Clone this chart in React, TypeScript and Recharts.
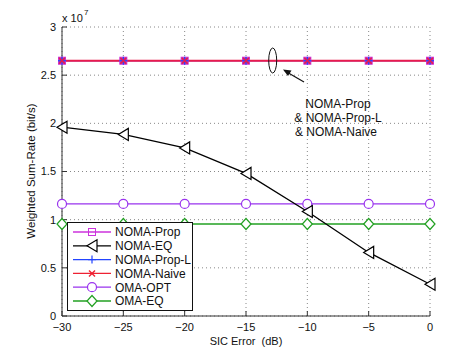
import React from "react";
import {
  LineChart,
  Line,
  XAxis,
  YAxis,
  CartesianGrid,
} from "recharts";

// values in units of 1e7 bit/s
const sicError = [-30, -25, -20, -15, -10, -5, 0];
const nomaProp = [2.65, 2.65, 2.65, 2.65, 2.65, 2.65, 2.65];
const nomaEq = [1.96, 1.885, 1.745, 1.48, 1.085, 0.66, 0.33];
const nomaPropL = [2.65, 2.65, 2.65, 2.65, 2.65, 2.65, 2.65];
const nomaNaive = [2.65, 2.65, 2.65, 2.65, 2.65, 2.65, 2.65];
const omaOpt = [1.163, 1.163, 1.163, 1.163, 1.163, 1.163, 1.163];
const omaEq = [0.955, 0.955, 0.955, 0.955, 0.955, 0.955, 0.955];
const yTicks = [0, 0.5, 1, 1.5, 2, 2.5, 3];

const data = sicError.map((x, i) => ({
  x,
  nomaProp: nomaProp[i],
  nomaEq: nomaEq[i],
  nomaPropL: nomaPropL[i],
  nomaNaive: nomaNaive[i],
  omaOpt: omaOpt[i],
  omaEq: omaEq[i],
}));

const FONT = "'Liberation Sans', Arial, Helvetica, sans-serif";
const C = {
  prop: "#cc33dd",
  eq: "#000000",
  propL: "#2244ff",
  naive: "#ee2233",
  naiveLine: "#e81c4c",
  opt: "#9933ee",
  omaEq: "#22a022",
};

// marker shapes
const Square = ({ cx, cy, color, fill = "none" }: any) => (
  <rect x={cx - 3.5} y={cy - 3.5} width={7} height={7} stroke={color} fill={fill} strokeWidth={1} />
);
const TriLeft = ({ cx, cy, color }: any) => (
  <polygon
    points={`${cx - 5},${cy} ${cx + 5},${cy - 6} ${cx + 5},${cy + 6}`}
    stroke={color}
    fill="#fff"
    strokeWidth={1.2}
  />
);
const Plus = ({ cx, cy, color }: any) => (
  <g stroke={color} strokeWidth={1.2}>
    <line x1={cx - 4} y1={cy} x2={cx + 4} y2={cy} />
    <line x1={cx} y1={cy - 4} x2={cx} y2={cy + 4} />
  </g>
);
const Cross = ({ cx, cy, color }: any) => (
  <g stroke={color} strokeWidth={1.4}>
    <line x1={cx - 3} y1={cy - 3} x2={cx + 3} y2={cy + 3} />
    <line x1={cx - 3} y1={cy + 3} x2={cx + 3} y2={cy - 3} />
  </g>
);
const Circle = ({ cx, cy, color }: any) => (
  <circle cx={cx} cy={cy} r={4.5} stroke={color} fill="#fff" strokeWidth={1.2} />
);
const Diamond = ({ cx, cy, color }: any) => (
  <polygon
    points={`${cx},${cy - 5.5} ${cx + 5},${cy} ${cx},${cy + 5.5} ${cx - 5},${cy}`}
    stroke={color}
    fill="#fff"
    strokeWidth={1.2}
  />
);

const dotOf = (Shape: any, color: string, fill?: string) => (p: any) =>
  p.cx == null ? <g key={p.index} /> : (
    <g key={p.index}>
      <Shape cx={p.cx} cy={p.cy} color={color} fill={fill} />
    </g>
  );

const legendItems = [
  { name: "NOMA-Prop", color: C.prop, Shape: Square },
  { name: "NOMA-EQ", color: C.eq, Shape: TriLeft },
  { name: "NOMA-Prop-L", color: C.propL, Shape: Plus },
  { name: "NOMA-Naive", color: C.naive, Shape: Cross },
  { name: "OMA-OPT", color: C.opt, Shape: Circle },
  { name: "OMA-EQ", color: C.omaEq, Shape: Diamond },
];

const fmt = (v: number) => (v < 0 ? "\u2212" + Math.abs(v) : String(v));
const tickStyle = { fontSize: 11, fill: "#111", fontFamily: FONT };
const noTick = () => <g />;

export default function App() {
  return (
    <div
      style={{
        position: "absolute",
        left: 0,
        top: 0,
        width: 474,
        height: 355,
        background: "#fff",
        fontFamily: FONT,
      }}
    >
      <LineChart
        width={474}
        height={355}
        data={data}
        margin={{ top: 27, right: 44, bottom: 0, left: 0 }}
      >
        <CartesianGrid
          stroke="#888"
          strokeDasharray="1 3"
          horizontalValues={yTicks}
          verticalValues={sicError}
        />
        <XAxis
          dataKey="x"
          type="number"
          domain={[-30, 0]}
          ticks={sicError}
          height={39}
          tickSize={-5}
          tickMargin={12}
          tickFormatter={fmt}
          tick={tickStyle}
          stroke="#333"
        />
        <XAxis
          xAxisId="top"
          orientation="top"
          type="number"
          domain={[-30, 0]}
          ticks={sicError}
          height={0}
          tickSize={-5}
          tick={noTick}
          stroke="#333"
        />
        <YAxis
          type="number"
          domain={[0, 3]}
          ticks={yTicks}
          width={62}
          tickSize={-5}
          tickMargin={11}
          tick={tickStyle}
          stroke="#333"
        />
        <YAxis
          yAxisId="right"
          orientation="right"
          type="number"
          domain={[0, 3]}
          ticks={yTicks}
          width={0}
          tickSize={-5}
          tick={noTick}
          stroke="#333"
        />
        <Line
          dataKey="omaEq"
          stroke={C.omaEq}
          strokeWidth={1.3}
          dot={dotOf(Diamond, C.omaEq)}
          isAnimationActive={false}
        />
        <Line
          dataKey="omaOpt"
          stroke={C.opt}
          strokeWidth={1.3}
          dot={dotOf(Circle, C.opt)}
          isAnimationActive={false}
        />
        <Line
          dataKey="nomaEq"
          stroke={C.eq}
          strokeWidth={1.3}
          dot={dotOf(TriLeft, C.eq)}
          isAnimationActive={false}
        />
        <Line
          dataKey="nomaProp"
          stroke={C.prop}
          strokeWidth={1.3}
          dot={dotOf(Square, C.prop, "#b03aa8")}
          isAnimationActive={false}
        />
        <Line
          dataKey="nomaPropL"
          stroke={C.propL}
          strokeWidth={1.3}
          dot={dotOf(Plus, C.propL)}
          isAnimationActive={false}
        />
        <Line
          dataKey="nomaNaive"
          stroke={C.naiveLine}
          strokeWidth={2}
          dot={dotOf(Cross, C.naiveLine)}
          isAnimationActive={false}
        />
      </LineChart>

      <svg
        width={474}
        height={355}
        style={{ position: "absolute", left: 0, top: 0, pointerEvents: "none" }}
        fontFamily={FONT}
      >
        {/* exponent */}
        <text x={62} y={22} fontSize={11} fill="#111">x 10</text>
        <text x={84} y={15} fontSize={8} fill="#111">7</text>

        {/* axis titles */}
        <text x={246} y={345} fontSize={11} textAnchor="middle" fill="#111">
          SIC Error{"\u00a0\u00a0"}(dB)
        </text>
        <text
          x={0}
          y={0}
          fontSize={11.5}
          textAnchor="middle"
          fill="#111"
          transform="translate(35,171) rotate(-90)"
        >
          Weighted Sum-Rate (bit/s)
        </text>

        {/* annotation */}
        <ellipse cx={272.7} cy={60.5} rx={4} ry={12.5} stroke="#111" fill="none" strokeWidth={1} />
        <line x1={304} y1={82} x2={285} y2={71} stroke="#111" strokeWidth={1.2} />
        <polygon points="283,69.5 291.5,70.5 288,76" fill="#111" />
        <text x={338} y={108} fontSize={12} textAnchor="middle" fill="#111">NOMA-Prop</text>
        <text x={338} y={122} fontSize={12} textAnchor="middle" fill="#111">&amp; NOMA-Prop-L</text>
        <text x={336} y={136} fontSize={12} textAnchor="middle" fill="#111">&amp; NOMA-Naive</text>

        {/* legend */}
        <rect x={67.5} y={222.5} width={125} height={88} fill="#fff" stroke="#111" strokeWidth={1} />
        {legendItems.map((it, i) => {
          const y = 232 + i * 13.8;
          return (
            <g key={it.name}>
              <line x1={73} y1={y} x2={111} y2={y} stroke={it.color} strokeWidth={1.3} />
              <it.Shape cx={92} cy={y} color={it.color} />
              <text x={115} y={y + 4.3} fontSize={12} fill="#111">{it.name}</text>
            </g>
          );
        })}
      </svg>
    </div>
  );
}
